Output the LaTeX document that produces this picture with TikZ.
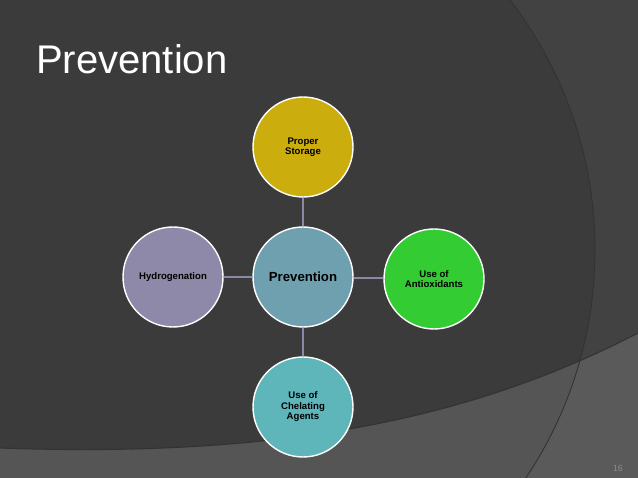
\documentclass[tikz,border=0pt]{standalone}
\usepackage{fontspec}
\setmainfont{Liberation Sans}
\definecolor{bgmain}{HTML}{3B3B3B}
\definecolor{bgright}{HTML}{424242}
\definecolor{bandmain}{HTML}{555555}
\definecolor{bandright}{HTML}{5A5A5A}
\definecolor{edgeshade}{HTML}{333333}
\definecolor{linkcol}{HTML}{8C88A8}
\definecolor{cgold}{HTML}{CCAD0E}
\definecolor{cgreen}{HTML}{33CC33}
\definecolor{clav}{HTML}{8E89A8}
\definecolor{ccenter}{HTML}{6FA0B0}
\definecolor{cteal}{HTML}{5EB5BA}
\definecolor{pagenum}{HTML}{8C8C8C}
\tikzset{
  bubble/.style={circle, draw=white, line width=1.4pt, minimum size=100pt, inner sep=0pt,
    align=center, text=black, font=\fontsize{9.6}{10.5}\selectfont\bfseries},
  hub/.style={bubble, font=\fontsize{13.2}{15}\selectfont\bfseries},
  link/.style={draw=linkcol, line width=1.5pt}
}
\begin{document}
\begin{tikzpicture}[x=1pt,y=-1pt]
\useasboundingbox (0,0) rectangle (638,478);
% background layers
\fill[bgright] (0,0) rectangle (638,478);
\begin{scope}
  \clip (0,0) rectangle (638,478);
  \fill[bgmain] (185,250) circle[radius=410];
  \fill[bandmain] (0,448) .. controls (280,458) and (470,420) .. (638,333) -- (638,478) -- (0,478) -- cycle;
  \begin{scope}
    \clip (0,448) .. controls (280,458) and (470,420) .. (638,333) -- (638,478) -- (0,478) -- cycle;
    \fill[bandright, even odd rule] (0,0) rectangle (638,478) (185,250) circle[radius=410];
  \end{scope}
  \draw[edgeshade, line width=0.9pt] (185,250) circle[radius=410];
  \draw[edgeshade, line width=1.1pt] (0,448) .. controls (280,458) and (470,420) .. (638,333);
\end{scope}
% title and page number
\node[anchor=base west, inner sep=0pt, text=white, font=\fontsize{40}{48}\selectfont] (title) at (36,74) {Prevention};
\node[anchor=base east, inner sep=0pt, text=pagenum, font=\fontsize{9}{10}\selectfont] (page) at (623,472) {16};
% nodes
\node[hub, fill=ccenter] (center) at (303,277) {Prevention};
\node[bubble, fill=cgold] (top) at (303,147) {Proper\\Storage};
\node[bubble, fill=clav] (left) at (173,277) {Hydrogenation};
\node[bubble, fill=cgreen] (right) at (434,279) {Use of\\Antioxidants};
\node[bubble, fill=cteal] (bottom) at (303,407) {Use of\\Chelating\\Agents};
% connectors
\draw[link] (center.north) -- (top.south);
\draw[link] (center.west) -- (left.east);
\draw[link] ([yshift=-1pt]center.east) -- ([yshift=1pt]right.west);
\draw[link] (center.south) -- (bottom.north);
\end{tikzpicture}
\end{document}
